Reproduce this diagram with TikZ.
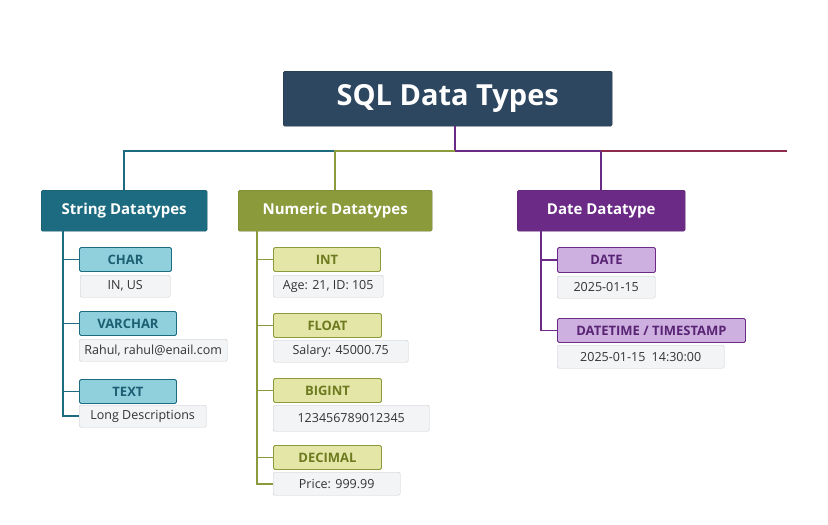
\documentclass[tikz,border=0pt]{standalone}
\usepackage{fontspec}
\setmainfont{Open Sans}
\definecolor{titleblue}{HTML}{2D4760}
\definecolor{tealdark}{HTML}{1D6B80}
\definecolor{teallight}{HTML}{8FD0DC}
\definecolor{tealtext}{HTML}{1D5F72}
\definecolor{olivedark}{HTML}{8B9A3B}
\definecolor{olivelight}{HTML}{E3E6A6}
\definecolor{olivetext}{HTML}{6E7A1F}
\definecolor{purpdark}{HTML}{6B2A85}
\definecolor{purplight}{HTML}{CDB0E0}
\definecolor{purptext}{HTML}{5A2475}
\definecolor{maroon}{HTML}{8E2A4A}
\definecolor{valfill}{HTML}{F3F4F6}
\definecolor{valline}{HTML}{C9CCD1}
\begin{document}
\begin{tikzpicture}[x=1pt,y=1pt,yscale=-1,
    box/.style={anchor=north west,inner sep=0pt,rounded corners=1.5pt},
    headbox/.style={box,fill=#1,draw=#1!80!black,text=white,font=\fontsize{15}{17}\selectfont\bfseries,minimum height=41pt},
    typebox/.style={box,draw=#1dark,fill=#1light,text=#1text,line width=0.9pt,font=\fontsize{13}{15}\selectfont\bfseries,minimum height=24pt},
    valbox/.style={box,draw=valline,fill=valfill,text=black!80,font=\fontsize{12.5}{14}\selectfont,minimum height=22pt},
    wire/.style={line width=1.7pt,#1}]
    \path[fill=white] (0,0) rectangle (828,525);

    %Title
    \node[box,fill=titleblue,draw=titleblue!70!black,text=white,minimum width=329pt,minimum height=55pt,font=\fontsize{29}{33}\selectfont\bfseries] (title) at (283,71) {SQL Data Types};

    %Heads
    \node[headbox=tealdark,minimum width=166pt] (shead) at (41,190) {String Datatypes};
    \node[headbox=olivedark,minimum width=194pt] (nhead) at (238,190) {Numeric Datatypes};
    \node[headbox=purpdark,minimum width=168pt] (dhead) at (517,190) {Date Datatype};

    %String types
    \node[typebox=teal,minimum width=92pt] (schar) at (79,247) {CHAR};
    \node[valbox,minimum width=90pt] (scharv) at (80,275) {IN, US};
    \node[typebox=teal,minimum width=97pt] (svarchar) at (79,311) {VARCHAR};
    \node[valbox,minimum width=148pt] (svarcharv) at (79,339) {Rahul, rahul@enail.com};
    \node[typebox=teal,minimum width=97pt] (stext) at (79,379) {TEXT};
    \node[valbox,minimum width=127pt] (stextv) at (79,405) {Long Descriptions};

    %Numeric types
    \node[typebox=olive,minimum width=107pt] (nint) at (273,247) {INT};
    \node[valbox,minimum width=110pt] (nintv) at (273,275) {Age: 21, ID: 105};
    \node[typebox=olive,minimum width=108pt] (nfloat) at (273,313) {FLOAT};
    \node[valbox,minimum width=135pt] (nfloatv) at (273,340) {Salary: 45000.75};
    \node[typebox=olive,minimum width=108pt] (nbigint) at (273,378) {BIGINT};
    \node[valbox,minimum width=156pt,minimum height=26pt] (nbigintv) at (273,405) {123456789012345};
    \node[typebox=olive,minimum width=108pt] (ndecimal) at (273,445) {DECIMAL};
    \node[valbox,minimum width=127pt,minimum height=23pt] (ndecimalv) at (273,472) {Price: 999.99};

    %Date types
    \node[typebox=purp,minimum width=98pt,minimum height=25pt] (ddate) at (557,247) {DATE};
    \node[valbox,minimum width=98pt] (ddatev) at (557,276) {2025-01-15};
    \node[typebox=purp,minimum width=188pt] (dstamp) at (557,318) {DATETIME / TIMESTAMP};
    \node[valbox,minimum width=167pt,minimum height=23pt] (dstampv) at (557,345) {2025-01-15\enspace14:30:00};

    %Top bus
    \coordinate (bus) at (455,151);
    \coordinate (busend) at (787,151);
    \draw[wire=purpdark] (title.south -| bus) -- (bus);
    \draw[wire=tealdark] (shead.north) |- (nhead.north |- bus);
    \draw[wire=olivedark] (nhead.north) -- (nhead.north |- bus) -- (bus);
    \draw[wire=purpdark] (dhead.north) -- (dhead.north |- bus) -- (bus);
    \draw[wire=maroon] (dhead.north |- bus) -- (busend);

    %Trunks
    \coordinate (strunk) at (63,231);
    \draw[wire=tealdark] (strunk) |- (schar.west);
    \draw[wire=tealdark] (strunk) |- (svarchar.west);
    \draw[wire=tealdark] (strunk) |- (stext.west);
    \draw[wire=tealdark] (strunk) |- (stextv.west);
    \coordinate (ntrunk) at (257,231);
    \draw[wire=olivedark] (ntrunk) |- (nint.west);
    \draw[wire=olivedark] (ntrunk) |- (nfloat.west);
    \draw[wire=olivedark] (ntrunk) |- (nbigint.west);
    \draw[wire=olivedark] (ntrunk) |- (ndecimal.west);
    \draw[wire=olivedark] (ntrunk) |- (ndecimalv.west);
    \coordinate (dtrunk) at (541,231);
    \draw[wire=purpdark] (dtrunk) |- (ddate.west);
    \draw[wire=purpdark] (dtrunk) |- (dstamp.west);
\end{tikzpicture}
\end{document}
